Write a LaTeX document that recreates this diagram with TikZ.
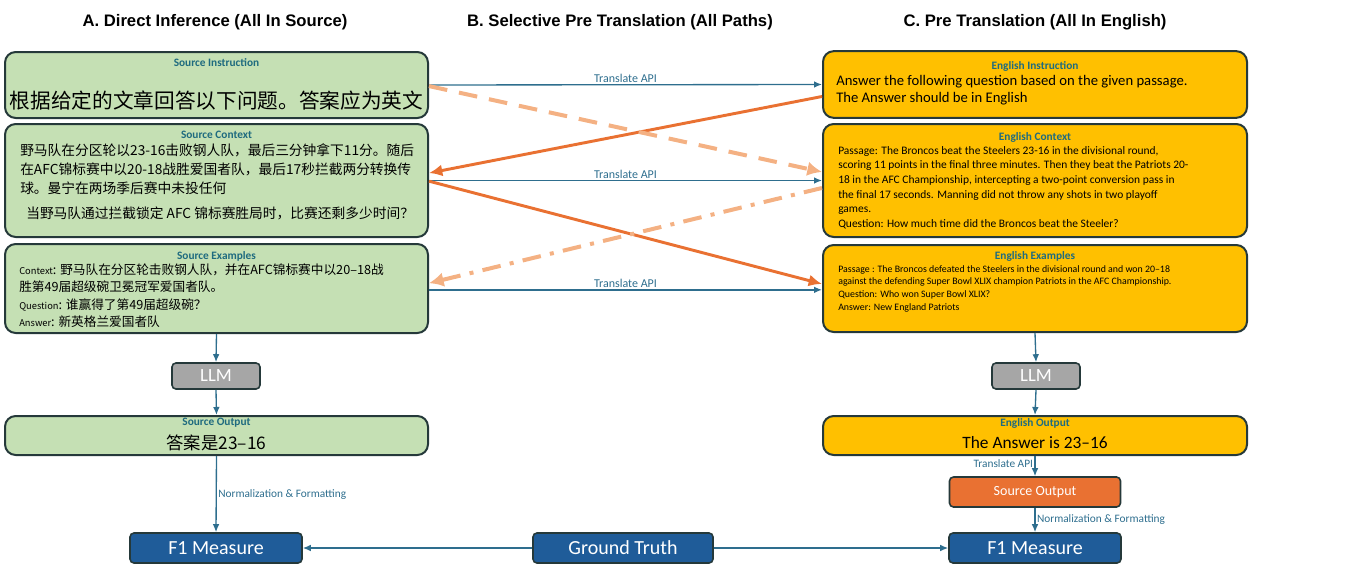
\documentclass[tikz,border=0pt]{standalone}
\usepackage{fontspec}
\setmainfont{Carlito}
\newfontfamily\hdfont{Liberation Sans}
\newfontfamily\cjk{Noto Sans CJK SC}
\usetikzlibrary{arrows.meta}
\definecolor{gbox}{HTML}{C5E0B4}
\definecolor{ybox}{HTML}{FFC000}
\definecolor{bord}{HTML}{25393A}
\definecolor{ttl}{HTML}{1F6B7F}
\definecolor{bbox}{HTML}{1F5C99}
\definecolor{arrb}{HTML}{2E6E8E}
\definecolor{org}{HTML}{E97132}
\definecolor{lorg}{HTML}{F4B183}
\definecolor{gry}{HTML}{A6A6A6}
\begin{document}
\begin{tikzpicture}[x=0.75pt,y=-0.75pt,
 box/.style={draw=bord,line width=1.5pt,rounded corners=8pt,inner sep=0pt},
 gb/.style={box,fill=gbox,minimum width=317.25pt},
 yb/.style={box,fill=ybox,minimum width=318pt},
 ttlx/.style={font=\bfseries\fontsize{8.5}{10}\selectfont,text=ttl,inner sep=0pt},
 sm/.style={draw=bord,line width=1.2pt,rounded corners=3pt,inner sep=0pt,text=white,minimum height=22.5pt},
 bl/.style={arrb,line width=1pt,-{Latex[length=6pt,width=5pt]}},
 lab/.style={font=\fontsize{9}{10}\selectfont,inner sep=1pt},
 hd/.style={font=\hdfont\bfseries\fontsize{12.5}{14}\selectfont}]
\useasboundingbox (0,0) rectangle (1345,582);
% headers
\node[hd] (ha) at (215,22) {A. Direct Inference (All In Source)};
\node[hd] (hb) at (620,22) {B. Selective Pre Translation (All Paths)};
\node[hd] (hc) at (1035,22) {C. Pre Translation (All In English)};
% left column
\node[gb,minimum height=49.5pt] (si) at (216.5,85) {};
\node[ttlx] (sit) at (216.5,63) {Source Instruction};
\node[inner sep=0pt,font=\cjk\fontsize{15.5}{18}\selectfont] (sib) at (216.5,101) {根据给定的文章回答以下问题。答案应为英文};
\node[gb,minimum height=84.75pt] (sc) at (216.5,180.5) {};
\node[ttlx] (sct) at (216.5,135) {Source Context};
\node[anchor=north west,inner sep=0pt,align=left,font=\cjk\fontsize{10.3}{14.3}\selectfont] (scb) at (20,143) {野马队在分区轮以23-16击败钢人队，最后三分钟拿下11分。随后\\在AFC锦标赛中以20-18战胜爱国者队，最后17秒拦截两分转换传\\球。曼宁在两场季后赛中未投任何};
\node[anchor=north west,inner sep=0pt,font=\cjk\fontsize{10.3}{14}\selectfont] (scq) at (26,207) {当野马队通过拦截锁定 AFC 锦标赛胜局时，比赛还剩多少时间？};
\node[gb,minimum height=66.75pt] (se) at (216.5,288.5) {};
\node[ttlx] (set) at (216.5,256) {Source Examples};
\node[anchor=north west,inner sep=0pt,align=left,font=\cjk\fontsize{9.5}{13.2}\selectfont] (seb) at (19,263) {{\fontsize{7}{8}\selectfont Context}: 野马队在分区轮击败钢人队，并在AFC锦标赛中以20–18战\\胜第49届超级碗卫冕冠军爱国者队。\\{\fontsize{7}{8}\selectfont Question}: 谁赢得了第49届超级碗？\\{\fontsize{7}{8}\selectfont Answer}: 新英格兰爱国者队};
\node[sm,fill=gry,minimum width=66pt,minimum height=19.5pt,font=\fontsize{14}{16}\selectfont] (llm1) at (216,376) {LLM};
\node[gb,minimum height=29.25pt] (so) at (216.5,435.5) {};
\node[ttlx] (sot) at (216.5,423) {Source Output};
\node[inner sep=0pt,font=\cjk\fontsize{13}{15}\selectfont] (sob) at (216.5,443) {答案是23–16};
\node[sm,fill=bbox,minimum width=129pt,font=\fontsize{15}{17}\selectfont] (f1l) at (216,548) {F1 Measure};
\node[sm,fill=bbox,minimum width=135pt,font=\fontsize{15}{17}\selectfont] (gt) at (623,548) {Ground Truth};
\node[sm,fill=bbox,minimum width=129pt,font=\fontsize{15}{17}\selectfont] (f1r) at (1035,548) {F1 Measure};
% right column
\node[yb,minimum height=50pt] (ei) at (1035,84.5) {};
\node[ttlx] (eit) at (1035,66) {English Instruction};
\node[anchor=north west,inner sep=0pt,align=left,font=\fontsize{11}{13}\selectfont] (eib) at (836,75) {Answer the following question based on the given passage.\\The Answer should be in English};
\node[yb,minimum height=84.75pt] (ec) at (1035,180.5) {};
\node[ttlx] (ect) at (1035,137) {English Context};
\node[anchor=north west,inner sep=0pt,align=left,font=\fontsize{8.6}{11}\selectfont] (ecb) at (838,146) {Passage: The Broncos beat the Steelers 23-16 in the divisional round,\\scoring 11 points in the final three minutes. Then they beat the Patriots 20-\\18 in the AFC Championship, intercepting a two-point conversion pass in\\the final 17 seconds. Manning did not throw any shots in two playoff\\games.\\Question: How much time did the Broncos beat the Steeler?};
\node[yb,minimum height=65.25pt] (ee) at (1035,288.5) {};
\node[ttlx] (eet) at (1035,256) {English Examples};
\node[anchor=north west,inner sep=0pt,align=left,font=\fontsize{7.4}{9.6}\selectfont] (eeb) at (838,265) {Passage : The Broncos defeated the Steelers in the divisional round and won 20–18\\against the defending Super Bowl XLIX champion Patriots in the AFC Championship.\\Question: Who won Super Bowl XLIX?\\Answer: New England Patriots};
\node[sm,fill=gry,minimum width=66pt,minimum height=19.5pt,font=\fontsize{14}{16}\selectfont] (llm2) at (1036,376) {LLM};
\node[yb,minimum height=29.25pt] (eo) at (1035,435.5) {};
\node[ttlx] (eot) at (1035,423) {English Output};
\node[inner sep=0pt,font=\fontsize{13}{15}\selectfont] (eob) at (1035,443) {The Answer is 23–16};
\node[sm,fill=org,minimum width=128.25pt,font=\fontsize{10.5}{12}\selectfont] (sout) at (1035,492) {Source Output};
% translate arrows
\draw[bl] (si.east) -- node[lab,above]{Translate API} (ei.west);
\draw[bl] (sc.east) -- node[lab,above]{Translate API} (ec.west);
\draw[bl] ([yshift=-1pt]se.east) -- node[lab,above]{Translate API} ([yshift=-1pt]ee.west);
% orange paths
\draw[org,line width=2.2pt,-{Latex[length=10pt,width=9pt]}] ([yshift=-9pt]ei.west) -- ([yshift=5.6pt]sc.east);
\draw[org,line width=2.2pt,-{Latex[length=10pt,width=9pt]}] ([yshift=-0.5pt]sc.east) -- ([yshift=3.4pt]ee.west);
\draw[lorg,line width=3pt,dash pattern=on 14pt off 9pt,-{Latex[length=11pt,width=11pt,open,fill=lorg]}] ([yshift=-0.8pt]si.east) -- ([yshift=6.4pt]ec.west);
\draw[lorg,line width=3pt,dash pattern=on 14pt off 7pt on 3pt off 7pt,-{Latex[length=11pt,width=11pt,fill=lorg]}] ([yshift=-5.6pt]ec.west) -- ([yshift=4pt]se.east);
% vertical flows
\draw[bl] (se.south) -- (llm1.north);
\draw[bl] (llm1.south) -- (so.north);
\draw[bl] (so.south) -- node[lab,right,font=\fontsize{8.5}{10}\selectfont]{Normalization \& Formatting} (f1l.north);
\draw[bl] (ee.south) -- (llm2.north);
\draw[bl] (llm2.south) -- (eo.north);
\draw[bl] (eo.south) -- node[lab,left,font=\fontsize{8.5}{10}\selectfont,pos=0.4]{Translate API} (sout.north);
\draw[bl] (sout.south) -- node[lab,right,font=\fontsize{8.5}{10}\selectfont]{Normalization \& Formatting} (f1r.north);
\draw[bl] (gt.west) -- (f1l.east);
\draw[bl] (gt.east) -- (f1r.west);
\end{tikzpicture}
\end{document}
